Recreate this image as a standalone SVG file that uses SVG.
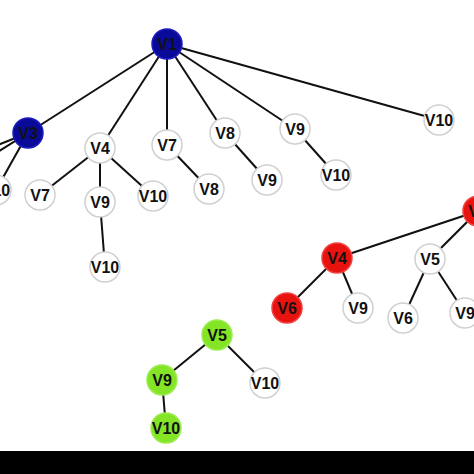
<svg xmlns="http://www.w3.org/2000/svg" width="474" height="474" viewBox="0 0 474 474">
<style>
.e{stroke:#111;stroke-width:2;fill:none}
.n circle{stroke-width:1.5}
.w circle{fill:#fff;stroke:#d0d0d0}
.b circle{fill:#0a0a98;stroke:#1c1cc0}
.r circle{fill:#e8120f;stroke:#f04040}
.g circle{fill:#84e426;stroke:#9cec50}
text{font-family:"Liberation Sans",Arial,sans-serif;font-weight:bold;font-size:16px;text-anchor:middle;dominant-baseline:central;fill:#111}
</style>
<rect width="474" height="474" fill="#fff"/>
<g id="connectors">
<line class="e" x1="167" y1="44" x2="28" y2="133"/>
<line class="e" x1="167" y1="44" x2="100" y2="148"/>
<line class="e" x1="167" y1="44" x2="167" y2="145"/>
<line class="e" x1="167" y1="44" x2="225" y2="133"/>
<line class="e" x1="167" y1="44" x2="295" y2="129"/>
<line class="e" x1="167" y1="44" x2="439" y2="120"/>
<line class="e" x1="28" y1="133" x2="-20" y2="152"/>
<line class="e" x1="28" y1="133" x2="-20" y2="163"/>
<line class="e" x1="28" y1="133" x2="-4" y2="190"/>
<line class="e" x1="100" y1="148" x2="40" y2="195"/>
<line class="e" x1="100" y1="148" x2="100" y2="202"/>
<line class="e" x1="100" y1="148" x2="153" y2="196"/>
<line class="e" x1="100" y1="202" x2="105" y2="267"/>
<line class="e" x1="167" y1="145" x2="209" y2="189"/>
<line class="e" x1="225" y1="133" x2="267" y2="180"/>
<line class="e" x1="295" y1="129" x2="336" y2="175"/>
<line class="e" x1="478" y1="211" x2="337" y2="258"/>
<line class="e" x1="478" y1="211" x2="430" y2="259"/>
<line class="e" x1="337" y1="258" x2="287" y2="308"/>
<line class="e" x1="337" y1="258" x2="358" y2="308"/>
<line class="e" x1="430" y1="259" x2="403" y2="318"/>
<line class="e" x1="430" y1="259" x2="465" y2="313"/>
<line class="e" x1="217" y1="335" x2="162" y2="380"/>
<line class="e" x1="217" y1="335" x2="265" y2="383"/>
<line class="e" x1="162" y1="380" x2="166" y2="428"/>
</g>
<g id="n-V1" class="n b"><circle cx="167" cy="44" r="15"/><text x="167" y="44">V1</text></g>
<g id="n-V3" class="n b"><circle cx="28" cy="133" r="15"/><text x="28" y="133">V3</text></g>
<g id="n-V10a" class="n w"><circle cx="-4" cy="190" r="15"/><text x="-4" y="190">V10</text></g>
<g id="n-V4" class="n w"><circle cx="100" cy="148" r="15"/><text x="100" y="148">V4</text></g>
<g id="n-V7" class="n w"><circle cx="167" cy="145" r="15"/><text x="167" y="145">V7</text></g>
<g id="n-V8" class="n w"><circle cx="225" cy="133" r="15"/><text x="225" y="133">V8</text></g>
<g id="n-V9" class="n w"><circle cx="295" cy="129" r="15"/><text x="295" y="129">V9</text></g>
<g id="n-V10" class="n w"><circle cx="439" cy="120" r="15"/><text x="439" y="120">V10</text></g>
<g id="n-V7b" class="n w"><circle cx="40" cy="195" r="15"/><text x="40" y="195">V7</text></g>
<g id="n-V9b" class="n w"><circle cx="100" cy="202" r="15"/><text x="100" y="202">V9</text></g>
<g id="n-V10b" class="n w"><circle cx="153" cy="196" r="15"/><text x="153" y="196">V10</text></g>
<g id="n-V10c" class="n w"><circle cx="105" cy="267" r="15"/><text x="105" y="267">V10</text></g>
<g id="n-V8b" class="n w"><circle cx="209" cy="189" r="15"/><text x="209" y="189">V8</text></g>
<g id="n-V9c" class="n w"><circle cx="267" cy="180" r="15"/><text x="267" y="180">V9</text></g>
<g id="n-V10d" class="n w"><circle cx="336" cy="175" r="15"/><text x="336" y="175">V10</text></g>
<g id="n-Vr" class="n r"><circle cx="478" cy="211" r="15"/><text x="478" y="211">V2</text></g>
<g id="n-V4r" class="n r"><circle cx="337" cy="258" r="15"/><text x="337" y="258">V4</text></g>
<g id="n-V5" class="n w"><circle cx="430" cy="259" r="15"/><text x="430" y="259">V5</text></g>
<g id="n-V6r" class="n r"><circle cx="287" cy="308" r="15"/><text x="287" y="308">V6</text></g>
<g id="n-V9d" class="n w"><circle cx="358" cy="308" r="15"/><text x="358" y="308">V9</text></g>
<g id="n-V6" class="n w"><circle cx="403" cy="318" r="15"/><text x="403" y="318">V6</text></g>
<g id="n-V9e" class="n w"><circle cx="465" cy="313" r="15"/><text x="465" y="313">V9</text></g>
<g id="n-V5g" class="n g"><circle cx="217" cy="335" r="15"/><text x="217" y="335">V5</text></g>
<g id="n-V9g" class="n g"><circle cx="162" cy="380" r="15"/><text x="162" y="380">V9</text></g>
<g id="n-V10e" class="n w"><circle cx="265" cy="383" r="15"/><text x="265" y="383">V10</text></g>
<g id="n-V10g" class="n g"><circle cx="166" cy="428" r="15"/><text x="166" y="428">V10</text></g>
<rect x="0" y="451" width="474" height="23" fill="#000"/>
</svg>
